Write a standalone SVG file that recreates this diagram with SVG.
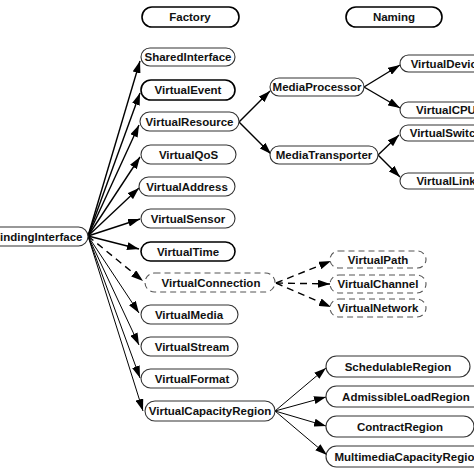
<svg xmlns="http://www.w3.org/2000/svg" width="474" height="474" viewBox="0 0 474 474">
<style>
.n rect{fill:#fff;stroke:#333;stroke-width:1.1}
.n.k rect{stroke:#000;stroke-width:1.6}
.n.d rect{stroke:#555;stroke-dasharray:6 4}
text{font-family:"Liberation Sans",Arial,sans-serif;font-weight:bold;font-size:11.5px;fill:#111;text-anchor:middle}
.e line{stroke:#000;stroke-width:1.4;marker-end:url(#ah)}
.e line.t{stroke-width:1}
.e line.d{stroke-dasharray:7 5}
</style>
<defs>
<marker id="ah" markerUnits="userSpaceOnUse" markerWidth="12" markerHeight="8" refX="12" refY="4" orient="auto"><path d="M0,0 L12,4 L0,8 z" fill="#000"/></marker>
</defs>
<g id="connectors" class="e">
<line x1="88" y1="236" x2="140" y2="61"/>
<line x1="88" y1="236" x2="140" y2="93"/>
<line x1="88" y1="236" x2="139" y2="125"/>
<line x1="88" y1="236" x2="140" y2="157"/>
<line x1="88" y1="236" x2="139" y2="188"/>
<line x1="88" y1="236" x2="140" y2="219"/>
<line x1="88" y1="236" x2="139" y2="249"/>
<line class="d" x1="88" y1="236" x2="143" y2="281"/>
<line class="t" x1="88" y1="236" x2="139" y2="313"/>
<line class="t" x1="88" y1="236" x2="139" y2="345"/>
<line class="t" x1="88" y1="236" x2="140" y2="378"/>
<line class="t" x1="88" y1="236" x2="143" y2="411"/>
<line x1="239" y1="122" x2="270" y2="91"/>
<line x1="239" y1="122" x2="271" y2="154"/>
<line x1="364" y1="87" x2="400" y2="65"/>
<line x1="364" y1="87" x2="400" y2="108"/>
<line x1="378" y1="155" x2="399" y2="135"/>
<line x1="378" y1="155" x2="400" y2="177"/>
<line class="d" x1="276" y1="283" x2="331" y2="261"/>
<line class="d" x1="276" y1="283" x2="330" y2="284"/>
<line class="d" x1="276" y1="283" x2="331" y2="307"/>
<line class="t" x1="275" y1="411" x2="326" y2="368"/>
<line class="t" x1="275" y1="411" x2="326" y2="397"/>
<line class="t" x1="275" y1="411" x2="326" y2="426"/>
<line class="t" x1="275" y1="411" x2="327" y2="455"/>
</g>
<g id="factory" class="n k"><rect x="142" y="7" width="97" height="20" rx="10"/><text x="190" y="21">Factory</text></g>
<g id="naming" class="n k"><rect x="346" y="7" width="96" height="20" rx="10"/><text x="394" y="21">Naming</text></g>
<g id="bindingInterface" class="n"><rect x="-12" y="227" width="100" height="19" rx="9.5"/><text x="82.5" y="240.5" style="text-anchor:end">BindingInterface</text></g>
<g id="sharedInterface" class="n"><rect x="141" y="48" width="94" height="18" rx="9"/><text x="188" y="61">SharedInterface</text></g>
<g id="virtualEvent" class="n k"><rect x="141" y="80" width="94" height="20" rx="10"/><text x="188" y="94">VirtualEvent</text></g>
<g id="virtualResource" class="n"><rect x="140" y="112" width="99" height="19" rx="9.5"/><text x="189.5" y="125.5">VirtualResource</text></g>
<g id="virtualQoS" class="n"><rect x="141" y="145" width="95" height="19" rx="9.5"/><text x="188.5" y="158.5">VirtualQoS</text></g>
<g id="virtualAddress" class="n"><rect x="139" y="177" width="96" height="19" rx="9.5"/><text x="187" y="190.5">VirtualAddress</text></g>
<g id="virtualSensor" class="n"><rect x="141" y="209" width="94" height="19" rx="9.5"/><text x="188" y="222.5">VirtualSensor</text></g>
<g id="virtualTime" class="n k"><rect x="141" y="242" width="94" height="19" rx="9.5"/><text x="188" y="255.5">VirtualTime</text></g>
<g id="virtualConnection" class="n d"><rect x="145" y="273" width="130" height="19" rx="9.5"/><text x="211" y="286.5">VirtualConnection</text></g>
<g id="virtualMedia" class="n"><rect x="141" y="305" width="97" height="19" rx="9.5"/><text x="189" y="318.5">VirtualMedia</text></g>
<g id="virtualStream" class="n"><rect x="141" y="337" width="97" height="19" rx="9.5"/><text x="192" y="350.5">VirtualStream</text></g>
<g id="virtualFormat" class="n"><rect x="141" y="369" width="97" height="19" rx="9.5"/><text x="192" y="382.5">VirtualFormat</text></g>
<g id="virtualCapacityRegion" class="n"><rect x="145" y="401" width="130" height="20" rx="10"/><text x="210" y="415">VirtualCapacityRegion</text></g>
<g id="mediaProcessor" class="n"><rect x="270" y="78" width="94" height="18" rx="9"/><text x="317" y="91">MediaProcessor</text></g>
<g id="mediaTransporter" class="n"><rect x="270" y="146" width="108" height="18" rx="9"/><text x="324" y="159">MediaTransporter</text></g>
<g id="virtualDevice" class="n"><rect x="400" y="55" width="94" height="17" rx="8.5"/><text x="447" y="67.5">VirtualDevice</text></g>
<g id="virtualCPU" class="n"><rect x="400" y="102" width="92" height="16" rx="8"/><text x="446" y="114">VirtualCPU</text></g>
<g id="virtualSwitch" class="n"><rect x="400" y="125" width="92" height="16" rx="8"/><text x="446" y="137">VirtualSwitch</text></g>
<g id="virtualLink" class="n"><rect x="400" y="173" width="92" height="16" rx="8"/><text x="446" y="185">VirtualLink</text></g>
<g id="virtualPath" class="n d"><rect x="330" y="251" width="96" height="17" rx="8.5"/><text x="378" y="263.5">VirtualPath</text></g>
<g id="virtualChannel" class="n d"><rect x="330" y="275" width="96" height="18" rx="9"/><text x="378" y="288">VirtualChannel</text></g>
<g id="virtualNetwork" class="n d"><rect x="330" y="299" width="96" height="18" rx="9"/><text x="378" y="312">VirtualNetwork</text></g>
<g id="schedulableRegion" class="n"><rect x="326" y="356" width="144" height="21" rx="10.5"/><text x="398" y="370.5">SchedulableRegion</text></g>
<g id="admissibleLoadRegion" class="n"><rect x="326" y="386" width="160" height="21" rx="10.5"/><text x="406" y="400.5">AdmissibleLoadRegion</text></g>
<g id="contractRegion" class="n"><rect x="326" y="416" width="148" height="21" rx="10.5"/><text x="400" y="430.5">ContractRegion</text></g>
<g id="multimediaCapacityRegion" class="n"><rect x="326" y="446" width="164" height="21" rx="10.5"/><text x="408" y="460.5">MultimediaCapacityRegion</text></g>
</svg>
